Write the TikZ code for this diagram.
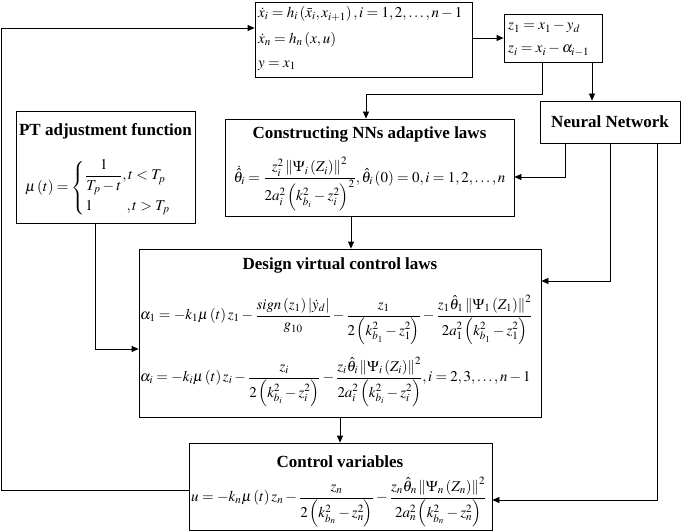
\documentclass[tikz,border=0pt]{standalone}
\usepackage{amsmath}
\usepackage{mathptmx}
\usepackage{fontspec}
\setmainfont{Liberation Serif}
\usetikzlibrary{arrows.meta}
\begin{document}
\begin{tikzpicture}[x=1pt,y=-1pt,
  box/.style={draw,line width=0.8pt,inner sep=0pt},
  ttl/.style={font=\fontsize{17}{19}\selectfont\bfseries},
  txt/.style={font=\fontsize{15}{17}\selectfont,inner sep=0pt},
  txs/.style={font=\fontsize{14.9}{16}\selectfont,inner sep=0pt},
  arr/.style={-{Triangle[length=7pt,width=6pt]},line width=0.8pt},
  ln/.style={line width=0.8pt}]
\useasboundingbox (0,0) rectangle (685,532);
% boxes
\node[box,minimum width=217,minimum height=75] (sys) at (363.5,39.5) {};
\node[box,minimum width=98,minimum height=48] (zb) at (553,38) {};
\node[box,minimum width=140,minimum height=42] (nn) at (610,122) {};
\node[box,minimum width=289,minimum height=97] (cn) at (369.5,167.5) {};
\node[box,minimum width=179,minimum height=112] (pt) at (105.5,167) {};
\node[box,minimum width=402,minimum height=168] (dv) at (340,333) {};
\node[box,minimum width=303,minimum height=87] (cv) at (340.5,486.5) {};
% texts
\node[txt,anchor=west] (s1) at (258,14) {$\dot x_i=h_i\left(\bar x_i,x_{i+1}\right),i=1,2,\ldots,n-1$};
\node[txt,anchor=west] (s2) at (258,40) {$\dot x_n=h_n\left(x,u\right)$};
\node[txt,anchor=west] (s3) at (258,66) {$y=x_1$};
\node[txt,anchor=west] (z1) at (508,27) {$z_1=x_1-y_d$};
\node[txt,anchor=west] (z2) at (508,50) {$z_i=x_i-\alpha_{i-1}$};
\node[ttl] (nnt) at (nn.center) {Neural Network};
\node[ttl] (cnt) at (369.5,134) {Constructing NNs adaptive laws};
\node[txt] (cnf) at (369.5,184) {$\dot{\hat\theta}_i=\dfrac{z_i^2\left\|\Psi_i\left(Z_i\right)\right\|^2}{2a_i^2\left(k_{b_i}^2-z_i^2\right)^2},\hat\theta_i\left(0\right)=0,i=1,2,\ldots,n$};
\node[ttl] (ptt) at (105.5,131) {PT adjustment function};
\node[txt] (ptf) at (105.5,188) {$\mu\left(t\right)=\begin{cases}\dfrac{1}{T_p-t},t<T_p\\[10pt] 1\qquad\ ,t>T_p\end{cases}$};
\node[ttl] (dvt) at (340,265) {Design virtual control laws};
\node[txs,anchor=west] (dv1) at (140,320) {$\alpha_1=-k_1\mu\left(t\right)z_1-\dfrac{sign\left(z_1\right)\left|\dot y_d\right|}{g_{10}}-\dfrac{z_1}{2\left(k_{b_1}^2-z_1^2\right)}-\dfrac{z_1\hat\theta_1\left\|\Psi_1\left(Z_1\right)\right\|^2}{2a_1^2\left(k_{b_1}^2-z_1^2\right)}$};
\node[txs,anchor=west] (dv2) at (140,382) {$\alpha_i=-k_i\mu\left(t\right)z_i-\dfrac{z_i}{2\left(k_{b_i}^2-z_i^2\right)}-\dfrac{z_i\hat\theta_i\left\|\Psi_i\left(Z_i\right)\right\|^2}{2a_i^2\left(k_{b_i}^2-z_i^2\right)},i=2,3,\ldots,n-1$};
\node[ttl] (cvt) at (340,462) {Control variables};
\node[txt,anchor=west] (cvf) at (191,502) {$u=-k_n\mu\left(t\right)z_n-\dfrac{z_n}{2\left(k_{b_n}^2-z_n^2\right)}-\dfrac{z_n\hat\theta_n\left\|\Psi_n\left(Z_n\right)\right\|^2}{2a_n^2\left(k_{b_n}^2-z_n^2\right)}$};
% connectors
\coordinate (lt) at (1,490);
\coordinate (lb) at (1,28);
\draw[arr] (cv.west|-lt) -- (lt) -- (lb) -- (sys.west|-lb);
\draw[arr] (sys.east|-zb) -- (zb.west);
\draw[arr] (542,62) -- (542,94) -- (366,94) -- (cn.north-|366,0);
\draw[arr] (592,62) -- (nn.north-|592,0);
\draw[arr] (565,143) -- (565,177) -- (cn.east|-0,177);
\draw[arr] (610,143) -- (610,281) -- (dv.east|-0,281);
\draw[arr] (657,143) -- (657,500) -- (cv.east|-0,500);
\draw[arr] (cn.south-|351,0) -- (dv.north-|351,0);
\draw[arr] (95,223) -- (95,349) -- (dv.west|-0,349);
\draw[arr] (dv.south-|340,0) -- (cv.north-|340,0);
\end{tikzpicture}
\end{document}
